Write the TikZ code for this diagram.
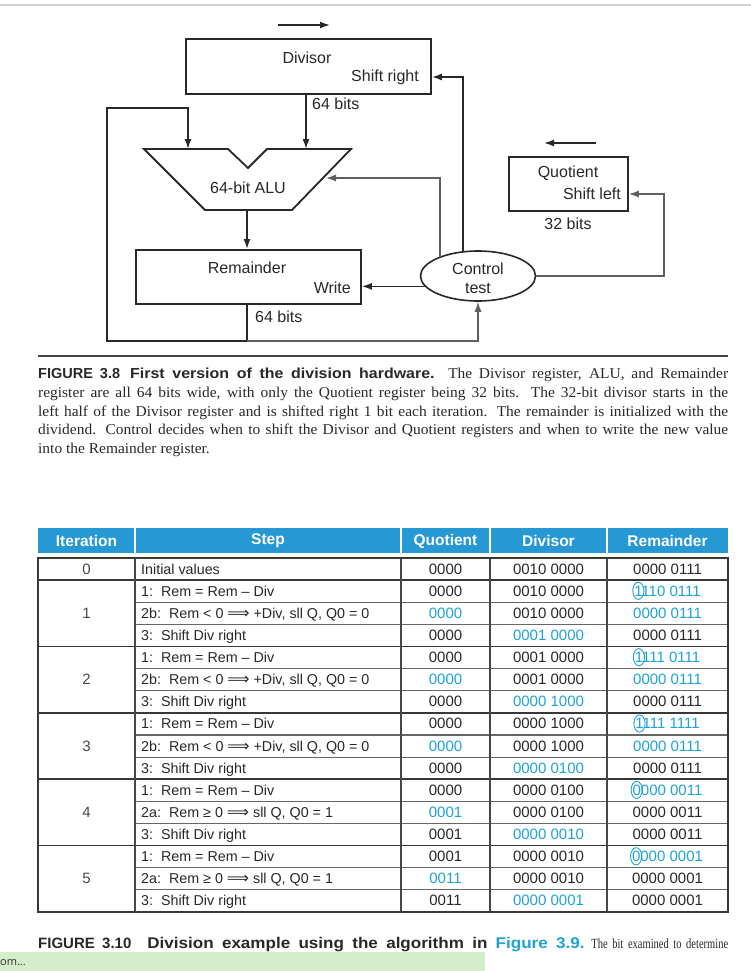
\documentclass[tikz,border=0pt]{standalone}
\usepackage{fontspec}
\setmainfont{Liberation Serif}[FakeStretch=1.03]
\newfontfamily\dia{Liberation Sans}
\newfontfamily\tbl{Liberation Sans}
\newfontfamily\capwide[FakeStretch=1.1]{Liberation Sans}
\newfontfamily\serifc[FakeStretch=0.75]{Liberation Serif}
\newfontfamily\djv{DejaVu Sans}
\newfontfamily\uisans{Open Sans}
\usetikzlibrary{arrows.meta,shapes.geometric,calc}
\definecolor{hdr}{RGB}{38,152,212}
\definecolor{tblue}{RGB}{30,162,214}
\definecolor{ink}{RGB}{40,40,40}
\definecolor{gline}{RGB}{95,95,95}
\definecolor{capgreen}{RGB}{214,237,204}
\newcommand\impl{{\djv\fontsize{15.5}{15}\selectfont ⟹}}
\newcommand\rowy[1]{558+22.125*(#1+0.5)+5}
\newcommand\trow[5]{%
  \node[tstep] (s#1) at (141,{\rowy{#1}}) {#2};
  \node[tnum] (q#1) at (445.5,{\rowy{#1}}) {#3};
  \node[tnum] (d#1) at (548.5,{\rowy{#1}}) {#4};
  \node[tnum] (r#1) at (667.5,{\rowy{#1}}) {#5};}
\newcommand\circfirst[1]{%
  \draw[tblue, line width=0.9pt] ([xshift=4.3pt,yshift=5.4pt]#1.base west) ellipse [x radius=5.6pt, y radius=8.6pt];}
\begin{document}
\begin{tikzpicture}[x=1pt,y=-1pt,
  lab/.style={font=\dia\fontsize{16}{19}\selectfont, text=ink, inner sep=0pt},
  regbox/.style={draw=ink, line width=1.8pt, fill=white, inner sep=0pt},
  wire/.style={draw=ink, line width=1.6pt},
  gwire/.style={draw=gline, line width=1.3pt},
  tip/.style={-{Latex[length=10pt,width=7pt]}},
  tstep/.style={anchor=base west, inner sep=0pt, font=\tbl\fontsize{14.3}{16}\selectfont, text=ink},
  tnum/.style={anchor=base, inner sep=0pt, font=\tbl\fontsize{15}{17}\selectfont, text=ink},
  titer/.style={anchor=base, inner sep=0pt, font=\tbl\fontsize{15}{17}\selectfont, text=ink!85},
  thead/.style={inner sep=0pt, font=\tbl\bfseries\fontsize{15.5}{17}\selectfont, text=white},
  capline/.style={anchor=base west, inner sep=0pt, font=\fontsize{15}{17}\selectfont, text=ink}
]
\useasboundingbox (0,0) rectangle (751,971);
\fill[white] (0,0) rectangle (751,971);
% top rule of page
\draw[black!18, line width=1.2pt] (0,5) -- (751,5);

% ---------------- Diagram ----------------
\node[regbox, anchor=north west, minimum width=245pt, minimum height=55pt] (div) at (185,38) {};
\node[lab] (divt) at (307,58) {Divisor};
\node[lab, anchor=east] (shr) at (419,77) {Shift right};
\coordinate (dwa) at (278,25); \coordinate (dwb) at (330,25);
\draw[wire,tip] (dwa) -- (dwb);

\coordinate (a1) at (144,149); \coordinate (a2) at (228,149); \coordinate (a3) at (248,168);
\coordinate (a4) at (267,149); \coordinate (a5) at (351,149); \coordinate (a6) at (292,210);
\coordinate (a7) at (205,210);
\draw[regbox, line join=miter] (a1) -- (a2) -- (a3) -- (a4) -- (a5) -- (a6) -- (a7) -- cycle;
\node[lab] (alut) at (248,188) {64-bit ALU};

\node[regbox, anchor=north west, minimum width=225pt, minimum height=54pt] (rem) at (135,249) {};
\node[lab] (remt) at (247,268) {Remainder};
\node[lab, anchor=east] (wrt) at (351,288) {Write};

\node[regbox, anchor=north west, minimum width=119pt, minimum height=54pt] (quo) at (508,156) {};
\node[lab] (quot) at (568,173) {Quotient};
\node[lab, anchor=east] (shl) at (621,194) {Shift left};
\node[lab] (q32) at (568,224) {32 bits};
\coordinate (qa) at (596,143); \coordinate (qb) at (544,143);
\draw[wire,tip] (qa) -- (qb);

\node[ellipse, draw=ink, line width=1.6pt, fill=white, minimum width=115pt, minimum height=50pt, inner sep=0pt] (ctl) at (478,276) {};
\node[lab] (ct1) at (478,269) {Control};
\node[lab] (ct2) at (478,288) {test};

\coordinate (aluR) at (306,149);
\draw[wire,tip] (div.south -| aluR) -- (aluR);
\node[lab, anchor=west] (b64a) at (312,104) {64 bits};

\coordinate (aluL) at (188,149);
\coordinate (aluB) at (247,210);
\coordinate (remB) at (247,303);
\coordinate (loopA) at (247,341);
\coordinate (loopB) at (107,108);
\draw[wire,tip] (remB) -- (loopA) -| (loopB) -| (aluL);
\draw[wire,tip] (aluB) -- (aluB |- rem.north);
\node[lab, anchor=west] (b64b) at (255,317) {64 bits};
\draw[gwire,tip] (loopA) -| (ctl.south);
\draw[wire,tip] (ctl.191) -- (ctl.191 -| rem.east);
\coordinate (cA) at (440,257); \coordinate (aluC) at (326,178);
\draw[gwire,tip] (cA) |- (aluC);
\coordinate (cB) at (463,252);
\draw[wire,tip] (cB) |- (div.east |- shr);
\coordinate (qR) at (664,194);
\draw[gwire,tip] (ctl.east) -| (qR) -- (quo.east |- qR);

% ---------------- Caption 3.8 ----------------
\draw[black!72, line width=2.2pt] (38,356) -- (728,356);
\node[capline] (c1) at (38,378.5) {\makebox[690pt][s]{{\dia\bfseries\fontsize{14.5}{16}\selectfont FIGURE 3.8\hspace{10pt}\capwide First version of the division hardware.} The Divisor register, ALU, and Remainder}};
\node[capline] (c2) at (38,397.3) {\makebox[690pt][s]{register are all 64 bits wide, with only the Quotient register being 32 bits. The 32-bit divisor starts in the}};
\node[capline] (c3) at (38,416.1) {\makebox[690pt][s]{left half of the Divisor register and is shifted right 1 bit each iteration. The remainder is initialized with the}};
\node[capline] (c4) at (38,434.9) {\makebox[690pt][s]{dividend. Control decides when to shift the Divisor and Quotient registers and when to write the new value}};
\node[capline] (c5) at (38,453.7) {into the Remainder register.};

% ---------------- Table ----------------
\fill[hdr] (38,528) rectangle (728,553);
\foreach \xx in {135,401,490,607} \draw[white, line width=2pt] (\xx,527) -- (\xx,554);
\node[thead] (h1) at (86.5,541) {Iteration};
\node[thead] (h2) at (268,541) {Step};
\node[thead] (h3) at (445.5,541) {Quotient};
\node[thead] (h4) at (548.5,541) {Divisor};
\node[thead] (h5) at (667.5,541) {Remainder};

\foreach \k in {2,3,5,6,8,9,11,12,14,15}
  \draw[black!60, line width=1.1pt] (135,{558+22.125*\k}) -- (728,{558+22.125*\k});
\foreach \k in {1,4,7,10,13}
  \draw[black!78, line width=1.7pt] (38,{558+22.125*\k}) -- (728,{558+22.125*\k});
\foreach \xx in {135,401,490,607}
  \draw[black!72, line width=1.5pt] (\xx,558) -- (\xx,912);
\draw[black!78, line width=1.8pt] (38,558) rectangle (728,912);

\node[titer] (i0) at (86.5,{\rowy{0}}) {0};
\node[titer] (i1) at (86.5,{\rowy{2}}) {1};
\node[titer] (i2) at (86.5,{\rowy{5}}) {2};
\node[titer] (i3) at (86.5,{\rowy{8}}) {3};
\node[titer] (i4) at (86.5,{\rowy{11}}) {4};
\node[titer] (i5) at (86.5,{\rowy{14}}) {5};

\trow{0}{Initial values}{0000}{0010 0000}{0000 0111}
\trow{1}{1:\ \ Rem = Rem – Div}{0000}{0010 0000}{\textcolor{tblue}{1110 0111}}
\trow{2}{2b:\ \ Rem < 0 \impl\ +Div, sll Q, Q0 = 0}{\textcolor{tblue}{0000}}{0010 0000}{\textcolor{tblue}{0000 0111}}
\trow{3}{3:\ \ Shift Div right}{0000}{\textcolor{tblue}{0001 0000}}{0000 0111}
\trow{4}{1:\ \ Rem = Rem – Div}{0000}{0001 0000}{\textcolor{tblue}{1111 0111}}
\trow{5}{2b:\ \ Rem < 0 \impl\ +Div, sll Q, Q0 = 0}{\textcolor{tblue}{0000}}{0001 0000}{\textcolor{tblue}{0000 0111}}
\trow{6}{3:\ \ Shift Div right}{0000}{\textcolor{tblue}{0000 1000}}{0000 0111}
\trow{7}{1:\ \ Rem = Rem – Div}{0000}{0000 1000}{\textcolor{tblue}{1111 1111}}
\trow{8}{2b:\ \ Rem < 0 \impl\ +Div, sll Q, Q0 = 0}{\textcolor{tblue}{0000}}{0000 1000}{\textcolor{tblue}{0000 0111}}
\trow{9}{3:\ \ Shift Div right}{0000}{\textcolor{tblue}{0000 0100}}{0000 0111}
\trow{10}{1:\ \ Rem = Rem – Div}{0000}{0000 0100}{\textcolor{tblue}{0000 0011}}
\trow{11}{2a:\ \ Rem ≥ 0 \impl\ sll Q, Q0 = 1}{\textcolor{tblue}{0001}}{0000 0100}{0000 0011}
\trow{12}{3:\ \ Shift Div right}{0001}{\textcolor{tblue}{0000 0010}}{0000 0011}
\trow{13}{1:\ \ Rem = Rem – Div}{0001}{0000 0010}{\textcolor{tblue}{0000 0001}}
\trow{14}{2a:\ \ Rem ≥ 0 \impl\ sll Q, Q0 = 1}{\textcolor{tblue}{0011}}{0000 0010}{0000 0001}
\trow{15}{3:\ \ Shift Div right}{0011}{\textcolor{tblue}{0000 0001}}{0000 0001}
\circfirst{r1}\circfirst{r4}\circfirst{r7}\circfirst{r10}\circfirst{r13}

% ---------------- Caption 3.10 ----------------
\node[capline] (c6) at (38,948) {\makebox[690pt][s]{{\dia\bfseries\fontsize{15}{17}\selectfont FIGURE 3.10\hspace{16pt}\capwide\fontsize{15.5}{17}\selectfont Division example using the algorithm in \textcolor{tblue}{Figure 3.9.}}\ {\serifc\fontsize{14}{16}\selectfont The bit examined to determine}}};

% ---------------- overlay bar ----------------
\fill[capgreen] (0,952) rectangle (485,971);
\node[anchor=west, inner sep=0pt, font=\uisans\fontsize{11}{13}\selectfont, text=black!80] (om) at (0,963) {om...};
\end{tikzpicture}
\end{document}
